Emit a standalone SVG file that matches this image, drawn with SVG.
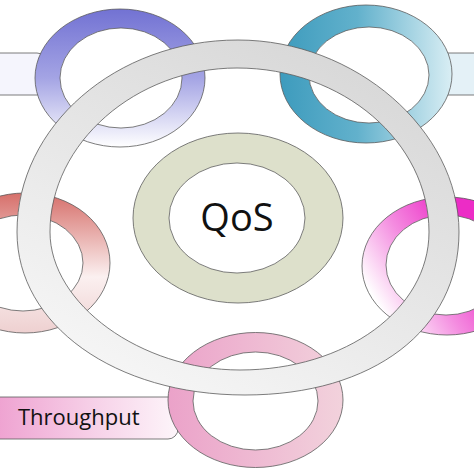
<svg xmlns="http://www.w3.org/2000/svg" width="474" height="474" viewBox="0 0 474 474">
<defs>
<style>
.edge{stroke:#5c5c5c;stroke-width:0.8}
.ring{fill-rule:evenodd}
.lbl{font-family:"Open Sans","Liberation Sans",sans-serif;fill:#111}
</style>
<linearGradient id="gPurple" x1="0" y1="0" x2="0" y2="1">
<stop offset="0" stop-color="#7272d3"/><stop offset="0.5" stop-color="#a4a4e4"/><stop offset="1" stop-color="#ffffff"/>
</linearGradient>
<linearGradient id="gCyan" x1="0" y1="0" x2="1" y2="0">
<stop offset="0" stop-color="#3d9bbd"/><stop offset="0.45" stop-color="#62b1cc"/><stop offset="1" stop-color="#d9eef4"/>
</linearGradient>
<linearGradient id="gRed" x1="0" y1="0" x2="0" y2="1">
<stop offset="0" stop-color="#d66f6a"/><stop offset="0.6" stop-color="#fbf0f0"/><stop offset="1" stop-color="#eed0d0"/>
</linearGradient>
<linearGradient id="gMag" gradientUnits="userSpaceOnUse" x1="375" y1="300" x2="470" y2="240">
<stop offset="0" stop-color="#ffffff"/><stop offset="0.5" stop-color="#f48ce0"/><stop offset="1" stop-color="#ec2cc6"/>
</linearGradient>
<linearGradient id="gPink" x1="0" y1="0" x2="1" y2="0">
<stop offset="0" stop-color="#eba2c9"/><stop offset="1" stop-color="#f2d2dc"/>
</linearGradient>
<linearGradient id="gThru" x1="0" y1="0" x2="1" y2="0">
<stop offset="0" stop-color="#ed9acd"/><stop offset="0.6" stop-color="#f7d3e9"/><stop offset="1" stop-color="#fdf5fa"/>
</linearGradient>
<linearGradient id="gGray" x1="0.8" y1="0" x2="0.2" y2="1">
<stop offset="0" stop-color="#d6d6d6"/><stop offset="1" stop-color="#f7f7f7"/>
</linearGradient>
</defs>
<rect width="474" height="474" fill="#ffffff"/>

<g id="box-purple">
<rect class="edge" x="-20" y="53" width="65" height="42" rx="8" fill="#f5f5fd"/>
</g>
<g id="box-cyan">
<rect class="edge" x="430" y="53" width="60" height="42" rx="8" fill="#e4f1f7"/>
</g>
<g id="box-throughput">
<rect class="edge" x="-20" y="397" width="198" height="42" rx="10" fill="url(#gThru)"/>
<text class="lbl" x="18" y="424.5" font-size="22">Throughput</text>
</g>

<g id="ring-purple">
<path class="edge ring" fill="url(#gPurple)" d="M35,78 a85,69 0 1,0 170,0 a85,69 0 1,0 -170,0 Z M60,78 a61,50 0 1,0 122,0 a61,50 0 1,0 -122,0 Z"/>
</g>
<g id="ring-cyan">
<path class="edge ring" fill="url(#gCyan)" d="M280,74 a86,69 0 1,0 172,0 a86,69 0 1,0 -172,0 Z M309,75 a60,48 0 1,0 120,0 a60,48 0 1,0 -120,0 Z"/>
</g>
<g id="ring-red">
<path class="edge ring" fill="url(#gRed)" d="M-60,263 a85,70 0 1,0 170,0 a85,70 0 1,0 -170,0 Z M-37,263 a60,48 0 1,0 120,0 a60,48 0 1,0 -120,0 Z"/>
</g>
<g id="ring-magenta">
<path class="edge ring" fill="url(#gMag)" d="M362,266 a85,69 0 1,0 170,0 a85,69 0 1,0 -170,0 Z M386,265 a60,50 0 1,0 120,0 a60,50 0 1,0 -120,0 Z"/>
</g>
<g id="ring-pink">
<path class="edge ring" fill="url(#gPink)" d="M168,400 a87.5,67.5 0 1,0 175,0 a87.5,67.5 0 1,0 -175,0 Z M193,401 a62.5,49 0 1,0 125,0 a62.5,49 0 1,0 -125,0 Z"/>
</g>

<g id="qos">
<path class="edge ring" fill="#dde0cb" d="M133,218 a105,85 0 1,0 210,0 a105,85 0 1,0 -210,0 Z M169,218 a68,55 0 1,0 136,0 a68,55 0 1,0 -136,0 Z"/>
<text class="lbl" x="237" y="231" font-size="38" text-anchor="middle">QoS</text>
</g>

<g id="ring-outer">
<path class="edge ring" fill="url(#gGray)" d="M238,40 C355,40 459,130 459,232 C459,330 373,395 245,395 C115,395 17,325 17,232 C17,126 116,40 238,40 Z M237,68 C343,68 429,142 429,232 C429,309 346,370 240,370 C141,370 50,304 50,232 C50,143 136,68 237,68 Z"/>
</g>
</svg>
